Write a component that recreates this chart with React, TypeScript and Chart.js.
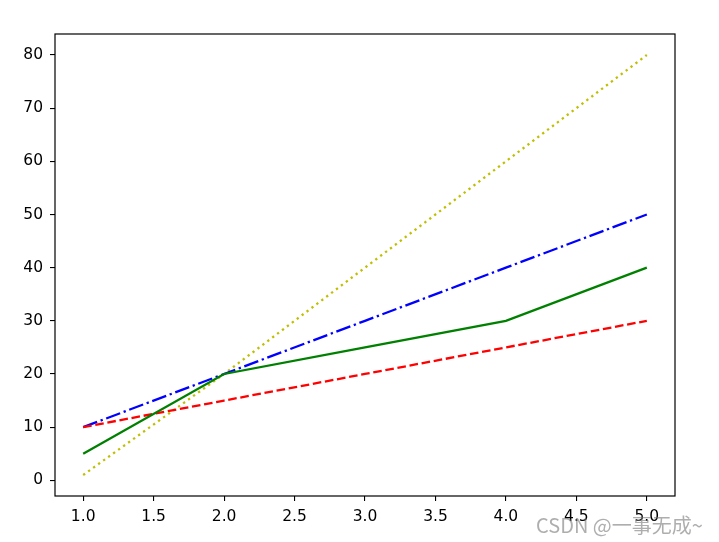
import { useEffect, useRef } from 'react'
import { Chart, registerables } from 'chart.js'

Chart.register(...registerables)

const xValues = [1, 2, 3, 4, 5]
const greenSolid = [5, 20, 25, 30, 40]
const redDashed = [10, 15, 20, 25, 30]
const blueDashDot = [10, 20, 30, 40, 50]
const yellowDotted = [1, 20, 40, 60, 80]

const xTicks = [1.0, 1.5, 2.0, 2.5, 3.0, 3.5, 4.0, 4.5, 5.0]
const yTicks = [0, 10, 20, 30, 40, 50, 60, 70, 80]

const watermark = 'CSDN @一事无成~'

// matplotlib-style box around the plot area + the CSDN watermark on top
const frame = {
  id: 'frame',
  afterDraw(chart: Chart) {
    const { ctx, chartArea } = chart
    ctx.save()
    ctx.strokeStyle = '#000'
    ctx.lineWidth = 1.2
    ctx.strokeRect(chartArea.left, chartArea.top, chartArea.right - chartArea.left, chartArea.bottom - chartArea.top)
    ctx.font = '20px "Noto Sans CJK SC", "DejaVu Sans", sans-serif'
    ctx.fillStyle = 'rgba(120,120,120,0.6)'
    ctx.textBaseline = 'alphabetic'
    ctx.fillText(watermark, 536, 533)
    ctx.restore()
  },
}

function toPoints(ys: number[]) {
  return ys.map((y, i) => ({ x: xValues[i], y }))
}

export default function App() {
  const canvasRef = useRef<HTMLCanvasElement>(null)

  useEffect(() => {
    if (!canvasRef.current) return
    const ctx = canvasRef.current.getContext('2d')
    if (!ctx) return

    const line = (data: number[], color: string, dash: number[]) => ({
      data: toPoints(data),
      borderColor: color,
      borderWidth: 2.3,
      borderDash: dash,
      borderCapStyle: 'butt' as const,
      pointRadius: 0,
      tension: 0,
      fill: false,
    })

    const chart = new Chart(ctx, {
      type: 'line',
      data: {
        datasets: [
          line(greenSolid, '#008000', []),
          line(redDashed, '#ff0000', [8.6, 3.7]),
          line(blueDashDot, '#0000ff', [14.9, 3.7, 2.3, 3.7]),
          line(yellowDotted, '#bfbf00', [2.3, 3.85]),
        ],
      },
      options: {
        responsive: false,
        animation: false,
        events: [],
        layout: { padding: { top: 34, right: 44, left: 0, bottom: 0 } },
        plugins: { legend: { display: false }, tooltip: { enabled: false } },
        scales: {
          x: {
            type: 'linear',
            min: 0.8,
            max: 5.2,
            afterBuildTicks: (s) => {
              s.ticks = xTicks.map((v) => ({ value: v }))
            },
            afterFit: (s) => {
              s.height = 46
            },
            grid: { drawOnChartArea: false, drawTicks: true, tickLength: 5, color: '#000', lineWidth: 1.1 },
            border: { display: false },
            ticks: {
              color: '#000',
              padding: 7,
              maxRotation: 0,
              autoSkip: false,
              font: { family: '"DejaVu Sans"', size: 15.5 },
              callback: (v) => Number(v).toFixed(1),
            },
          },
          y: {
            type: 'linear',
            min: -2.95,
            max: 83.95,
            afterBuildTicks: (s) => {
              s.ticks = yTicks.map((v) => ({ value: v }))
            },
            afterFit: (s) => {
              s.width = 55
            },
            grid: { drawOnChartArea: false, drawTicks: true, tickLength: 5, color: '#000', lineWidth: 1.1 },
            border: { display: false },
            ticks: {
              color: '#000',
              padding: 7,
              autoSkip: false,
              font: { family: '"DejaVu Sans"', size: 15.5 },
              callback: (v) => String(v),
            },
          },
        },
      },
      plugins: [frame],
    })

    return () => chart.destroy()
  }, [])

  return (
    <div style={{ position: 'fixed', left: 0, top: 0, width: 719, height: 542, background: '#fff' }}>
      <canvas ref={canvasRef} width={719} height={542} style={{ display: 'block' }} />
    </div>
  )
}
